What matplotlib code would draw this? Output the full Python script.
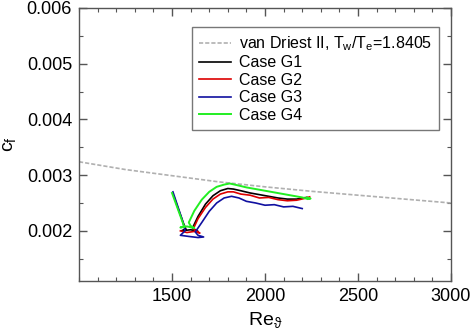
import matplotlib
matplotlib.use("Agg")
import matplotlib.pyplot as plt
from matplotlib.ticker import MultipleLocator, FormatStrFormatter

plt.rcParams["font.family"] = ["Liberation Sans", "DejaVu Sans"]
plt.rcParams["mathtext.fontset"] = "custom"
plt.rcParams["mathtext.rm"] = "Liberation Sans"
plt.rcParams["mathtext.it"] = "Liberation Sans"

# van Driest II correlation
vd_re = [1000, 1250, 1500, 1750, 2000, 2250, 2500, 2750, 3000]
vd_cf = [0.00324, 0.00310, 0.00299, 0.00288, 0.00279, 0.00271, 0.00264, 0.00257, 0.00250]

# Case G1 (black)
g1_re = [1510, 1535, 1560, 1575, 1550, 1600, 1640, 1610, 1640, 1680, 1720, 1760, 1800,
         1830, 1870, 1920, 1970, 2020, 2070, 2120, 2170, 2200, 2225]
g1_cf = [0.00262, 0.00238, 0.00215, 0.00203, 0.00200, 0.00202, 0.00199, 0.00205, 0.00226,
         0.00248, 0.00263, 0.00272, 0.00276, 0.00275, 0.00272, 0.00268, 0.00265, 0.00262,
         0.00259, 0.00257, 0.00257, 0.00259, 0.00260]

# Case G2 (red)
g2_re = [1545, 1580, 1620, 1650, 1630, 1615, 1640, 1680, 1720, 1760, 1800, 1830, 1870,
         1920, 1970, 2020, 2070, 2120, 2170, 2210, 2240]
g2_cf = [0.00200, 0.00197, 0.00199, 0.00196, 0.00200, 0.00204, 0.00222, 0.00242, 0.00257,
         0.00266, 0.00270, 0.00270, 0.00266, 0.00264, 0.00259, 0.00260, 0.00256, 0.00254,
         0.00255, 0.00258, 0.00261]

# Case G3 (blue)
g3_re = [1505, 1530, 1555, 1570, 1545, 1590, 1640, 1670, 1640, 1625, 1660, 1700, 1740,
         1780, 1820, 1860, 1900, 1950, 2000, 2050, 2100, 2150, 2200]
g3_cf = [0.00270, 0.00245, 0.00220, 0.00200, 0.00192, 0.00190, 0.00188, 0.00189, 0.00192,
         0.00198, 0.00215, 0.00235, 0.00250, 0.00259, 0.00262, 0.00259, 0.00253, 0.00250,
         0.00246, 0.00247, 0.00243, 0.00244, 0.00240]

# Case G4 (green)
g4_re = [1500, 1525, 1550, 1565, 1545, 1580, 1620, 1600, 1590, 1620, 1660, 1700, 1740,
         1780, 1810, 1850, 1900, 1950, 2000, 2050, 2100, 2150, 2200, 2230, 2245, 2225]
g4_cf = [0.00268, 0.00245, 0.00222, 0.00208, 0.00206, 0.00208, 0.00205, 0.00209, 0.00215,
         0.00236, 0.00256, 0.00270, 0.00279, 0.00283, 0.00285, 0.00282, 0.00278, 0.00275,
         0.00272, 0.00269, 0.00266, 0.00263, 0.00260, 0.00257, 0.00258, 0.00260]

fig = plt.figure(figsize=(4.74, 3.36), dpi=100)
ax = fig.add_axes([0.1667, 0.1637, 0.7848, 0.8125])

ax.plot(vd_re, vd_cf, color="#b0b0b0", lw=1.2, ls=(0, (2.5, 1.2)),
        label=r"van Driest II, T$_\mathrm{w}$/T$_\mathrm{e}$=1.8405")
ax.plot(g1_re, g1_cf, color="black", lw=1.2, label="Case G1")
ax.plot(g2_re, g2_cf, color="#dd0000", lw=1.2, label="Case G2")
ax.plot(g3_re, g3_cf, color="#1010a0", lw=1.2, label="Case G3")
ax.plot(g4_re, g4_cf, color="#22ee22", lw=1.4, label="Case G4")

ax.set_xlim(1000, 3000)
ax.set_ylim(0.0011, 0.006)
ax.xaxis.set_major_locator(MultipleLocator(500))
ax.xaxis.set_minor_locator(MultipleLocator(100))
ax.yaxis.set_major_locator(MultipleLocator(0.001))
ax.yaxis.set_minor_locator(MultipleLocator(0.0005))
ax.yaxis.set_major_formatter(FormatStrFormatter("%.3f"))
ax.set_xticks([1500, 2000, 2500, 3000])

ax.tick_params(which="both", direction="in", top=True, right=True,
               color="#555555", labelsize=13, pad=5)
ax.tick_params(which="major", length=6, width=1)
ax.tick_params(which="minor", length=3, width=0.8)
for s in ax.spines.values():
    s.set_color("#555555")
    s.set_linewidth(1)

ax.set_xlabel(r"Re$_\vartheta$", fontsize=14, labelpad=4)
ax.set_ylabel(r"c$_\mathrm{f}$", fontsize=14, labelpad=6)

leg = ax.legend(loc="upper right", bbox_to_anchor=(0.968, 0.93), borderaxespad=0,
                fontsize=11.5, frameon=True, fancybox=False, handlelength=2.0,
                handletextpad=0.5, labelspacing=0.15, borderpad=0.45)
leg.get_frame().set_edgecolor("#555555")
leg.get_frame().set_linewidth(1)

fig.savefig("out.png", dpi=100)
